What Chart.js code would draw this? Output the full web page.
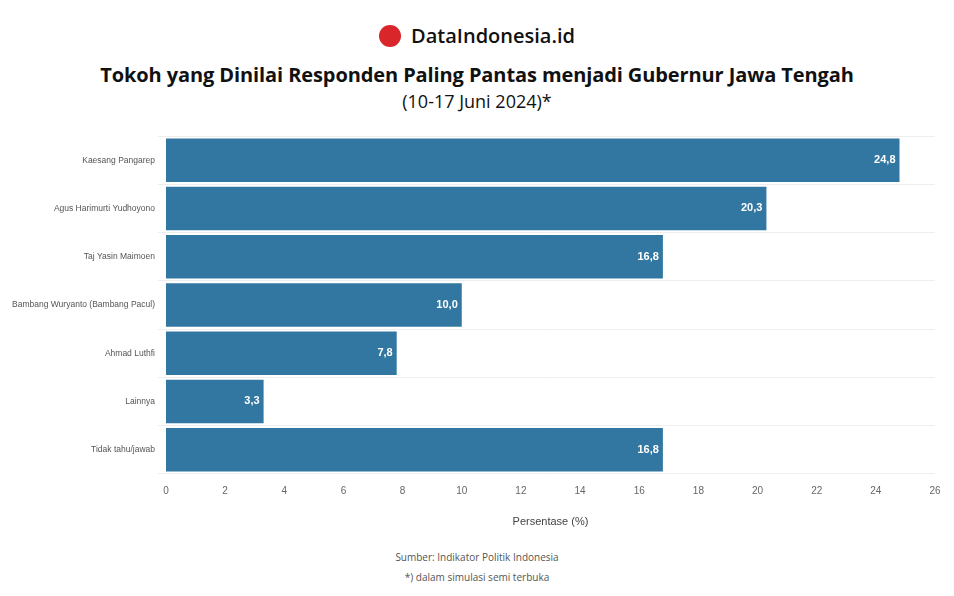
<!DOCTYPE html>
<html><head><meta charset="utf-8">
<script src="https://cdn.jsdelivr.net/npm/chart.js@4"></script>
<style>body{margin:0;background:#fff;font-family:"Open Sans",sans-serif}
#wrap{width:954px;height:596px;position:relative}
.t{position:absolute;left:0;width:954px;text-align:center;color:#111}
</style></head><body><div id="wrap">
<div class="t" style="top:22px;font-size:20px;font-weight:600"><span style="display:inline-block;width:22px;height:22px;border-radius:50%;background:#d9262a;vertical-align:-4px;margin-right:10px"></span>DataIndonesia.id</div>
<div class="t" style="top:61px;font-size:20px;font-weight:700;letter-spacing:-0.1px">Tokoh yang Dinilai Responden Paling Pantas menjadi Gubernur Jawa Tengah</div>
<div class="t" style="top:89px;font-size:18px">(10-17 Juni 2024)*</div>
<div style="position:absolute;left:0;top:128px;width:945px;height:405px"><canvas id="c"></canvas></div>
<div class="t" style="top:550px;font-size:10px;color:#555">Sumber: Indikator Politik Indonesia</div>
<div class="t" style="top:570px;font-size:10px;color:#555">*) dalam simulasi semi terbuka</div>
</div>
<script>
const categories=["Kaesang Pangarep","Agus Harimurti Yudhoyono","Taj Yasin Maimoen","Bambang Wuryanto (Bambang Pacul)","Ahmad Luthfi","Lainnya","Tidak tahu/jawab"];
const values=[24.8,20.3,16.8,10.0,7.8,3.3,16.8];
const valueLabels=values.map(v=>v.toFixed(1).replace('.',','));
new Chart(document.getElementById('c'),{type:'bar',
data:{labels:categories,datasets:[{data:values,backgroundColor:'#3277a1',barPercentage:0.95,categoryPercentage:0.95}]},
options:{indexAxis:'y',responsive:true,maintainAspectRatio:false,animation:false,
layout:{padding:{top:4,right:10}},
plugins:{legend:{display:false},tooltip:{enabled:false}},
scales:{x:{min:0,max:26,ticks:{stepSize:2,color:'#666',font:{size:10}},grid:{display:false},border:{display:false},
title:{display:true,text:'Persentase (%)',color:'#444',font:{size:11},padding:{top:16}}},
y:{afterFit(s){s.width=166;},ticks:{color:'#555',font:{size:8.5}},grid:{color:'#eee'},border:{display:false}}}},
plugins:[{id:'v',afterDatasetsDraw(ch){const c=ch.ctx;c.save();c.fillStyle='#fff';c.font='bold 11px sans-serif';c.textAlign='right';c.textBaseline='middle';
ch.getDatasetMeta(0).data.forEach((b,i)=>c.fillText(valueLabels[i],b.x-4,b.y));c.restore();}}]
});
</script></body></html>
